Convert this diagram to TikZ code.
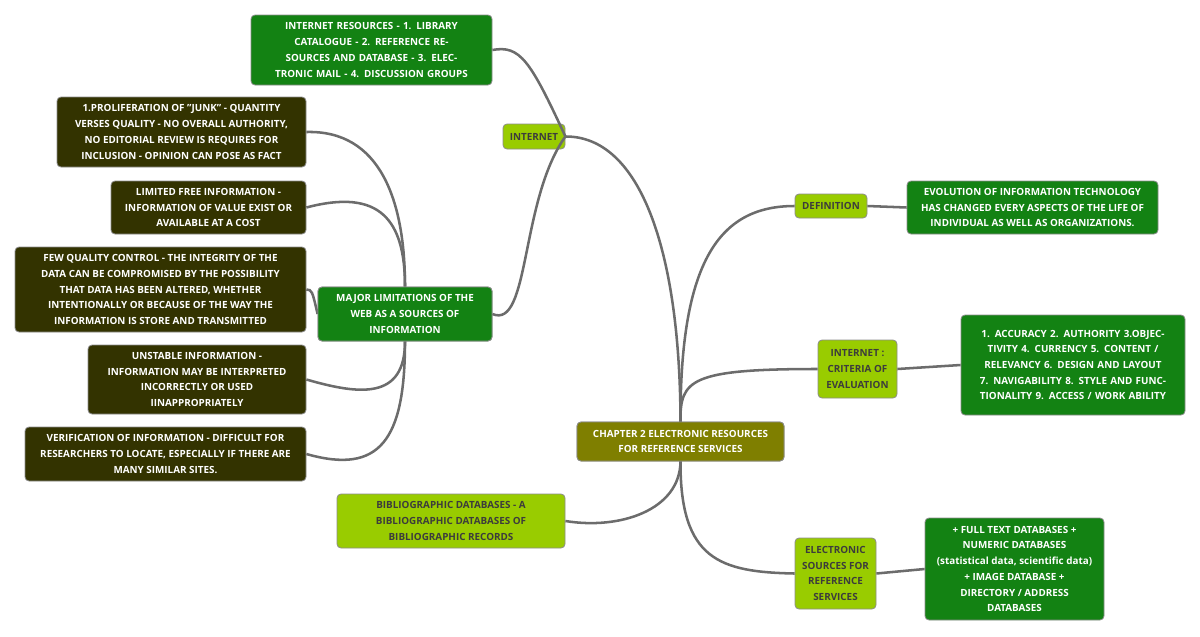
\documentclass[tikz,border=0pt]{standalone}
\usepackage{fontspec}
\setmainfont{Open Sans}
\begin{document}
\begin{tikzpicture}[x=0.75pt,y=-0.75pt,
 box/.style={rounded corners=3pt,draw=black!45,line width=0.6pt,align=center,inner sep=2pt,font=\bfseries\fontsize{7.4}{11.8}\selectfont},
 lg/.style={box,fill=lg,text=tg},
 dg/.style={box,fill=dg,text=white},
 ol/.style={box,fill=dol,text=white},
 ctr/.style={box,fill=olv,text=white},
 con/.style={draw=gray!85!black,line width=1.9pt}]
\definecolor{lg}{HTML}{99CC00}
\definecolor{tg}{HTML}{3C3C3C}
\definecolor{dg}{HTML}{138213}
\definecolor{dol}{HTML}{333300}
\definecolor{olv}{HTML}{7F7F00}
\useasboundingbox (0,0) rectangle (1200,636);
\node[ctr,minimum width=207*0.75pt,minimum height=39*0.75pt] (c) at (680.5,441.5) {CHAPTER 2 ELECTRONIC RESOURCES\\FOR REFERENCE SERVICES};
\node[lg,minimum width=62*0.75pt,minimum height=25*0.75pt] (inet) at (534,136.5) {INTERNET};
\node[dg,minimum width=241*0.75pt,minimum height=70*0.75pt,text width=230*0.75pt] (res) at (371.5,50) {INTERNET RESOURCES - 1. LIBRARY CATALOGUE - 2. REFERENCE RESOURCES AND DATABASE - 3. ELECTRONIC MAIL - 4. DISCUSSION GROUPS};
\node[dg,minimum width=174*0.75pt,minimum height=54*0.75pt] (lim) at (405,314) {MAJOR LIMITATIONS OF THE\\WEB AS A SOURCES OF\\INFORMATION};
\node[ol,minimum width=249*0.75pt,minimum height=70*0.75pt] (b1) at (181.5,132) {1.PROLIFERATION OF "JUNK" - QUANTITY\\VERSES QUALITY - NO OVERALL AUTHORITY,\\NO EDITORIAL REVIEW IS REQUIRES FOR\\INCLUSION - OPINION CAN POSE AS FACT};
\node[ol,minimum width=195*0.75pt,minimum height=53*0.75pt] (b2) at (208.5,207.5) {LIMITED FREE INFORMATION -\\INFORMATION OF VALUE EXIST OR\\AVAILABLE AT A COST};
\node[ol,minimum width=291*0.75pt,minimum height=85*0.75pt] (b3) at (160.5,289.5) {FEW QUALITY CONTROL - THE INTEGRITY OF THE\\DATA CAN BE COMPROMISED BY THE POSSIBILITY\\THAT DATA HAS BEEN ALTERED, WHETHER\\INTENTIONALLY OR BECAUSE OF THE WAY THE\\INFORMATION IS STORE AND TRANSMITTED};
\node[ol,minimum width=218*0.75pt,minimum height=69*0.75pt] (b4) at (197,379.5) {UNSTABLE INFORMATION -\\INFORMATION MAY BE INTERPRETED\\INCORRECTLY OR USED\\IINAPPROPRIATELY};
\node[ol,minimum width=281*0.75pt,minimum height=54*0.75pt] (b5) at (165.5,454) {VERIFICATION OF INFORMATION - DIFFICULT FOR\\RESEARCHERS TO LOCATE, ESPECIALLY IF THERE ARE\\MANY SIMILAR SITES.};
\node[lg,minimum width=72*0.75pt,minimum height=24*0.75pt] (def) at (831,206) {DEFINITION};
\node[dg,minimum width=251*0.75pt,minimum height=53*0.75pt] (evo) at (1032.5,207.5) {EVOLUTION OF INFORMATION TECHNOLOGY\\HAS CHANGED EVERY ASPECTS OF THE LIFE OF\\INDIVIDUAL AS WELL AS ORGANIZATIONS.};
\node[lg,minimum width=79*0.75pt,minimum height=58*0.75pt] (crit) at (857.5,369) {INTERNET :\\CRITERIA OF\\EVALUATION};
\node[dg,minimum width=224*0.75pt,minimum height=100*0.75pt,text width=214*0.75pt] (list) at (1073,365) {1. ACCURACY 2. AUTHORITY 3.OBJECTIVITY 4. CURRENCY 5. CONTENT / RELEVANCY 6. DESIGN AND LAYOUT 7. NAVIGABILITY 8. STYLE AND FUNCTIONALITY 9. ACCESS / WORK ABILITY};
\node[lg,minimum width=228*0.75pt,minimum height=54*0.75pt] (bib) at (451,521) {BIBLIOGRAPHIC DATABASES - A\\BIBLIOGRAPHIC DATABASES OF\\BIBLIOGRAPHIC RECORDS};
\node[lg,minimum width=81*0.75pt,minimum height=71*0.75pt] (el) at (835.5,573.5) {ELECTRONIC\\SOURCES FOR\\REFERENCE\\SERVICES};
\node[dg,minimum width=179*0.75pt,minimum height=102*0.75pt] (ft) at (1014.5,569) {+ FULL TEXT DATABASES +\\NUMERIC DATABASES\\(statistical data, scientific data)\\+ IMAGE DATABASE +\\DIRECTORY / ADDRESS\\DATABASES};
\begin{scope}[on background layer/.style={}]
\end{scope}
% connectors
\draw[con] (c.north) .. controls (680,250) and (640,136) .. (inet.east);
\draw[con] (c.north) .. controls (680,260) and (720,206) .. (def.west);
\draw[con] (c.north) .. controls (680,380) and (690,369) .. (crit.west);
\draw[con] (c.south) .. controls (680,510) and (620,530) .. (bib.east);
\draw[con] (c.south) .. controls (680,560) and (720,572) .. (el.west);
\draw[con] (inet.east) .. controls (530,60) and (520,45) .. (res.east);
\draw[con] (inet.east) .. controls (520,200) and (530,330) .. (lim.east);
\draw[con] (def.east) -- (evo.west);
\draw[con] (crit.east) -- (list.west);
\draw[con] (el.east) -- (ft.west);
\draw[con] (lim.north) .. controls (405,200) and (380,130) .. (b1.east);
\draw[con] (lim.north) .. controls (405,220) and (380,188) .. (b2.east);
\draw[con] (lim.west) .. controls (312,290) .. (b3.east);
\draw[con] (lim.south) .. controls (405,400) and (360,395) .. (b4.east);
\draw[con] (lim.south) .. controls (405,440) and (380,475) .. (b5.east);
% redraw nodes on top
\node[ctr,minimum width=207*0.75pt,minimum height=39*0.75pt] at (680.5,441.5) {CHAPTER 2 ELECTRONIC RESOURCES\\FOR REFERENCE SERVICES};
\node[dg,minimum width=174*0.75pt,minimum height=54*0.75pt] at (405,314) {MAJOR LIMITATIONS OF THE\\WEB AS A SOURCES OF\\INFORMATION};
\end{tikzpicture}
\end{document}
